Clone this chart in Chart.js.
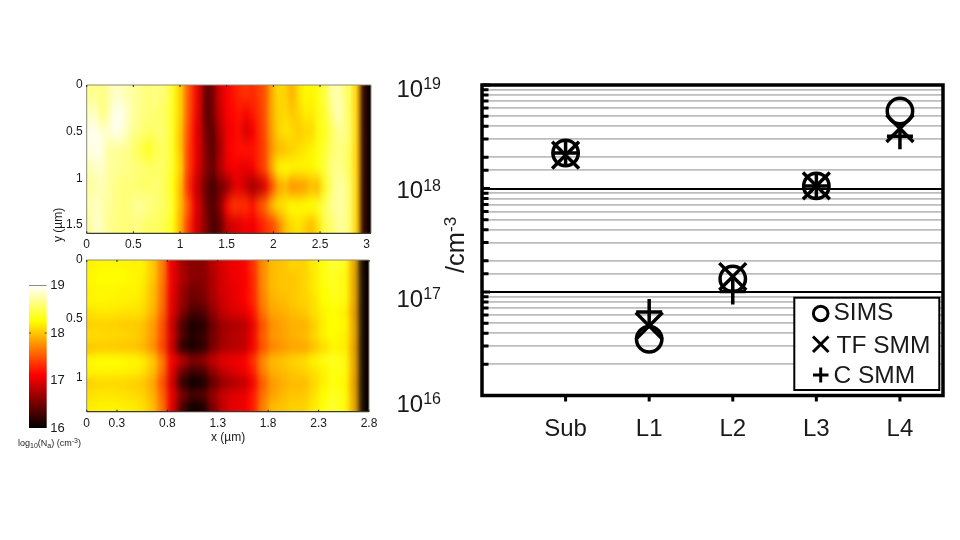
<!DOCTYPE html>
<html>
<head>
<meta charset="utf-8">
<title>Doping profile</title>
<script src="https://cdn.jsdelivr.net/npm/chart.js@4/dist/chart.umd.js"></script>
<style>
  html, body { margin: 0; background: #fff; }
  canvas { position: absolute; left: 0; top: 0; }
</style>
</head>
<body>
<canvas id="topMap" width="960" height="540"></canvas>
<canvas id="bottomMap" width="960" height="540"></canvas>
<canvas id="colorbar" width="960" height="540"></canvas>
<canvas id="summary" width="960" height="540"></canvas>
<script>
/* ================= DATA ================= */
const categories = ["Sub", "L1", "L2", "L3", "L4"];
const seriesNames = ["SIMS", "TF SMM", "C SMM"];
const simsValues = [2.2e18, 3.5e16, 1.34e17, 1.06e18, 5.6e18];
const tfSmmValues = [2.1e18, 4.7e16, 1.41e17, 1.06e18, 3.8e18];
const cSmmValues = [2.2e18, 6.4e16, 1.01e17, 1.06e18, 3.2e18];
const decadeExponents = [16, 17, 18, 19];

const colorbarTicks = [16, 17, 18, 19];
const hotValues = [16, 17.125, 18.25, 19];
const hotColors = [[0, 0, 0], [255, 0, 0], [255, 255, 0], [255, 255, 255]];

const topXTicks = [0, 0.5, 1, 1.5, 2, 2.5, 3];
const topYTicks = [0, 0.5, 1, 1.5];
const topColumns = [0.035, 0.105, 0.175, 0.245, 0.315, 0.385, 0.455, 0.525, 0.595, 0.665, 0.735,
  0.805, 0.875, 0.945, 1.015, 1.085, 1.155, 1.225, 1.295, 1.365, 1.435, 1.505, 1.575, 1.645, 1.715,
  1.785, 1.855, 1.925, 1.995, 2.065, 2.135, 2.205, 2.275, 2.345, 2.415, 2.485, 2.555, 2.625, 2.695,
  2.765, 2.835, 2.905, 2.975, 3.045];
const topRowEdges = [0, 0.2, 0.4, 0.6, 0.8, 1, 1.2, 1.4, 1.6];
const topRows = [
  [18.65,18.7,18.6,18.75,18.85,18.8,18.75,18.7,18.65,18.6,18.65,18.6,18.55,18.3,18.0,17.6,17.25,16.95,16.3,16.6,16.95,17.1,17.2,17.3,17.35,17.3,17.4,17.5,17.95,18.1,18.05,17.9,18.1,18.25,18.2,18.3,18.45,18.7,18.8,18.6,18.5,18.0,16.2,16.0],
  [18.8,18.85,18.55,18.8,18.95,18.95,18.8,18.7,18.65,18.6,18.6,18.55,18.5,18.3,18.0,17.6,17.2,16.95,16.25,16.6,16.9,17.1,17.15,17.25,17.1,17.25,17.35,17.5,17.95,18.05,18.1,18.0,18.05,18.2,18.15,18.3,18.4,18.6,18.85,18.65,18.5,18.0,16.2,16.0],
  [18.95,18.95,18.85,18.85,18.95,18.9,18.75,18.65,18.6,18.55,18.55,18.6,18.5,18.3,17.95,17.55,17.15,16.9,16.4,16.45,16.8,17.05,17.1,17.2,16.9,17.1,17.3,17.5,17.9,18.05,18.15,18.1,18.0,18.1,18.05,18.3,18.35,18.5,18.7,18.65,18.55,18.0,16.2,16.0],
  [18.9,18.95,18.9,18.7,18.7,18.7,18.65,18.55,18.45,18.35,18.45,18.55,18.5,18.3,17.95,17.5,17.15,16.9,16.5,16.4,16.75,17.05,17.15,17.2,17.2,17.2,17.3,17.45,17.85,17.95,18.0,18.05,18.1,18.15,18.2,18.3,18.4,18.55,18.65,18.6,18.5,18.0,16.2,16.0],
  [18.75,18.85,18.85,18.7,18.7,18.65,18.65,18.6,18.6,18.55,18.55,18.55,18.5,18.3,18.0,17.5,17.15,16.85,16.55,16.45,16.8,17.0,17.1,17.05,17.0,17.1,17.3,17.45,17.95,18.2,18.25,18.2,18.2,18.2,18.2,18.3,18.45,18.6,18.7,18.6,18.5,18.0,16.2,16.0],
  [18.7,18.75,18.8,18.7,18.65,18.6,18.6,18.6,18.55,18.55,18.6,18.55,18.45,18.25,17.9,17.4,17.0,16.75,16.4,16.3,16.5,16.6,16.95,17.05,16.85,16.7,16.8,17.0,17.5,17.85,17.95,17.75,17.8,17.8,18.0,17.9,18.35,18.55,18.75,18.7,18.55,18.0,16.2,16.0],
  [18.75,18.85,18.75,18.7,18.65,18.6,18.6,18.7,18.7,18.65,18.6,18.55,18.5,18.3,17.9,17.6,17.1,16.85,16.45,16.35,16.6,17.1,17.4,17.3,17.35,17.2,17.45,17.6,18.0,18.1,18.15,18.25,18.2,18.25,18.25,18.35,18.5,18.65,18.75,18.7,18.55,18.0,16.2,16.0],
  [18.7,18.85,18.8,18.65,18.65,18.6,18.6,18.65,18.6,18.55,18.55,18.5,18.45,18.25,17.85,17.45,17.05,16.8,16.55,16.3,16.45,16.85,16.95,17.0,17.1,17.05,17.2,17.35,17.45,17.7,18.0,18.1,18.15,18.05,17.95,18.15,18.5,18.55,18.7,18.7,18.55,18.0,16.2,16.0]
];

const bottomXTicks = [0, 0.3, 0.8, 1.3, 1.8, 2.3, 2.8];
const bottomYTicks = [0, 0.5, 1];
const bottomColumns = [0.05, 0.15, 0.25, 0.35, 0.45, 0.55, 0.65, 0.75, 0.85, 0.95, 1.05, 1.15, 1.25, 1.35,
  1.45, 1.55, 1.65, 1.75, 1.85, 1.95, 2.05, 2.15, 2.25, 2.35, 2.45, 2.55, 2.65, 2.75];
const bottomRowEdges = [0, 0.1, 0.2, 0.3, 0.4, 0.5, 0.6, 0.7, 0.8, 0.9, 1, 1.1, 1.2, 1.3];
const bottomRows = [
  [18.2,18.22,18.22,18.22,18.2,18.2,18.05,17.7,17.05,16.75,16.6,16.6,16.8,16.95,17.05,17.1,17.3,17.75,17.95,18.0,18.05,18.05,18.15,18.3,18.4,18.35,17.95,16.05],
  [18.22,18.25,18.25,18.25,18.22,18.2,18.05,17.7,17.05,16.8,16.6,16.6,16.75,16.95,17.05,17.1,17.25,17.75,17.95,18.0,18.0,18.05,18.15,18.3,18.35,18.3,17.95,16.05],
  [18.2,18.22,18.22,18.2,18.2,18.18,18.0,17.65,17.05,16.7,16.5,16.55,16.75,16.95,17.0,17.1,17.25,17.75,17.95,18.0,18.0,18.05,18.15,18.25,18.35,18.3,17.95,16.05],
  [18.2,18.22,18.2,18.2,18.18,18.15,18.0,17.65,17.0,16.7,16.45,16.5,16.7,16.9,17.0,17.1,17.25,17.7,17.9,17.95,18.0,18.05,18.1,18.25,18.3,18.3,17.95,16.05],
  [18.12,18.15,18.15,18.12,18.12,18.1,17.95,17.6,17.0,16.6,16.3,16.35,16.6,16.85,16.95,17.0,17.15,17.65,17.85,17.9,17.95,18.0,18.1,18.2,18.25,18.2,17.9,16.05],
  [18.05,18.05,18.05,18.02,18.02,18.0,17.85,17.5,16.9,16.35,16.1,16.15,16.45,16.7,16.75,16.8,17.0,17.5,17.75,17.85,17.9,17.9,18.0,18.2,18.25,18.25,17.95,16.05],
  [18.1,18.1,18.08,18.08,18.05,18.0,17.85,17.5,16.95,16.4,16.15,16.25,16.5,16.7,16.8,16.85,17.05,17.55,17.8,17.85,17.9,17.95,18.05,18.2,18.25,18.2,17.95,16.05],
  [18.0,18.02,18.02,18.0,18.0,17.95,17.8,17.45,16.9,16.2,16.1,16.2,16.5,16.75,16.8,16.85,17.05,17.5,17.7,17.8,17.85,17.85,17.95,18.1,18.2,18.2,17.9,16.05],
  [18.22,18.25,18.25,18.25,18.22,18.2,18.05,17.7,17.1,16.85,16.6,16.65,16.85,17.0,17.05,17.1,17.3,17.75,17.95,18.0,18.05,18.1,18.2,18.3,18.35,18.3,17.95,16.05],
  [18.2,18.22,18.2,18.2,18.18,18.15,18.0,17.65,17.0,16.5,16.25,16.3,16.6,16.85,16.95,17.05,17.2,17.7,17.9,17.95,18.0,18.05,18.1,18.2,18.3,18.3,17.95,16.05],
  [18.05,18.08,18.08,18.08,18.05,18.02,17.9,17.5,16.95,16.25,16.05,16.1,16.4,16.65,16.75,16.85,17.05,17.55,17.8,17.9,17.95,17.95,18.05,18.2,18.3,18.25,17.9,16.05],
  [18.12,18.15,18.15,18.12,18.1,18.08,17.95,17.6,17.05,16.6,16.35,16.4,16.65,16.9,17.0,17.05,17.2,17.65,17.85,17.95,18.0,18.0,18.1,18.25,18.35,18.3,17.95,16.05],
  [18.18,18.2,18.2,18.2,18.18,18.12,18.0,17.65,17.0,16.35,16.05,16.1,16.5,16.85,17.0,17.05,17.2,17.7,17.95,18.0,18.05,18.05,18.15,18.3,18.4,18.3,17.95,16.05]
];

/* ================= SHARED ================= */
const FONT = "'Liberation Sans', Arial, sans-serif";

Chart.defaults.font.family = FONT;
Chart.defaults.color = "#1a1a1a";
Chart.defaults.animation = false;
Chart.defaults.events = [];
Chart.defaults.plugins.legend.display = false;
Chart.defaults.plugins.tooltip.enabled = false;

function hot(v) {
  let i = 0;
  while (i < hotValues.length - 2 && v > hotValues[i + 1]) i++;
  const t = Math.min(1, Math.max(0, (v - hotValues[i]) / (hotValues[i + 1] - hotValues[i])));
  const c = hotColors[i].map((a, k) => Math.round(a + (hotColors[i + 1][k] - a) * t));
  return `rgb(${c[0]},${c[1]},${c[2]})`;
}

// plot area is fixed by padding, the axes get a fixed room next to it
const AXIS_ROOM = 50;
function padFor(area, sideRoom, bottomRoom) {
  return {
    left: area.left - (sideRoom === "right" ? 0 : AXIS_ROOM),
    top: area.top,
    right: 960 - area.right - (sideRoom === "right" ? AXIS_ROOM : 0),
    bottom: 540 - area.bottom - (bottomRoom === false ? 0 : AXIS_ROOM)
  };
}
const fixWidth = s => { s.width = AXIS_ROOM; };
const fixHeight = s => { s.height = AXIS_ROOM; };
const fixedTicks = list => s => { s.ticks = list.map(value => ({ value })); };

// text with sub and superscripts, parts = [text, size, raise]
function richText(ctx, parts, x, y, angle) {
  ctx.save();
  ctx.translate(x, y);
  if (angle) ctx.rotate(angle);
  ctx.textAlign = "left";
  ctx.textBaseline = "alphabetic";
  ctx.fillStyle = "#1a1a1a";
  let pos = 0;
  parts.forEach(([text, size, raise]) => {
    ctx.font = `${size}px ${FONT}`;
    ctx.fillText(text, pos, -(raise || 0));
    pos += ctx.measureText(text).width;
  });
  ctx.restore();
}

/* ================= HEATMAPS ================= */
// the picture is a blurred image, so the cells are resampled after drawing
const smoothCells = {
  id: "smoothCells",
  afterDatasetsDraw(chart, args, opts) {
    const a = chart.chartArea;
    const w = Math.round(a.right - a.left), h = Math.round(a.bottom - a.top);
    const tmp = document.createElement("canvas");
    tmp.width = opts.cols;
    tmp.height = opts.rows;
    const t = tmp.getContext("2d");
    t.imageSmoothingEnabled = true;
    t.imageSmoothingQuality = "high";
    t.drawImage(chart.canvas, a.left, a.top, w, h, 0, 0, opts.cols, opts.rows);
    chart.ctx.save();
    chart.ctx.imageSmoothingEnabled = true;
    chart.ctx.imageSmoothingQuality = "high";
    chart.ctx.drawImage(tmp, 0, 0, opts.cols, opts.rows, a.left, a.top, w, h);
    chart.ctx.restore();
  }
};

const mapFrame = {
  id: "mapFrame",
  afterDraw(chart, args, opts) {
    const { ctx, chartArea: a, scales } = chart;
    ctx.save();
    ctx.strokeStyle = opts.sideColor;
    ctx.lineWidth = 1;
    ctx.beginPath();
    ctx.moveTo(a.left, a.bottom);
    ctx.lineTo(a.left, a.top);
    ctx.lineTo(a.right, a.top);
    ctx.lineTo(a.right, a.bottom);
    ctx.stroke();
    ctx.strokeStyle = opts.bottomColor;
    ctx.lineWidth = 1.3;
    ctx.beginPath();
    ctx.moveTo(a.left, a.bottom);
    ctx.lineTo(a.right, a.bottom);
    ctx.stroke();
    ctx.strokeStyle = "#222";
    ctx.lineWidth = 1;
    ctx.beginPath();
    scales.x.ticks.forEach(t => {
      const p = scales.x.getPixelForValue(t.value);
      ctx.moveTo(p, a.top);
      ctx.lineTo(p, a.top + 2);
      ctx.moveTo(p, a.bottom);
      ctx.lineTo(p, a.bottom - 2);
    });
    ctx.stroke();
    ctx.restore();
    if (opts.label) richText(ctx, opts.label.parts, opts.label.x, opts.label.y, opts.label.angle);
  }
};

function mapChart(id, area, columns, rowEdges, rows, xMax, yMax, xTicks, yTicks, label) {
  const datasets = rows.map((row, r) => ({
    data: row.map((v, c) => ({ x: columns[c], y: [rowEdges[r], rowEdges[r + 1]] })),
    backgroundColor: row.map(hot),
    borderWidth: 0,
    inflateAmount: 0.6,
    grouped: false,
    barPercentage: 1,
    categoryPercentage: 1
  }));
  const tickFont = { size: 12 };
  return new Chart(document.getElementById(id), {
    type: "bar",
    data: { datasets },
    plugins: [smoothCells, mapFrame],
    options: {
      responsive: false,
      devicePixelRatio: 1,
      layout: { padding: padFor(area), autoPadding: false },
      plugins: {
        smoothCells: { cols: columns.length * 2, rows: rows.length },
        mapFrame: { sideColor: "#8c8c7c", bottomColor: "#3a3a30", label }
      },
      scales: {
        x: {
          type: "linear", offset: false, min: 0, max: xMax,
          afterFit: fixHeight, afterBuildTicks: fixedTicks(xTicks),
          grid: { display: false, offset: false, drawTicks: false }, border: { display: false },
          ticks: { font: tickFont, padding: 4.5, autoSkip: false, maxRotation: 0, callback: v => String(v) }
        },
        y: {
          type: "linear", reverse: true, min: 0, max: yMax,
          afterFit: fixWidth, afterBuildTicks: fixedTicks(yTicks),
          grid: { display: false, drawTicks: false }, border: { display: false },
          ticks: { font: tickFont, padding: 4, autoSkip: false, callback: v => String(v) }
        }
      }
    }
  });
}

mapChart("topMap", { left: 86.7, top: 85, right: 371, bottom: 233.3 },
  topColumns, topRowEdges, topRows, 3.046, 1.59, topXTicks, topYTicks,
  { parts: [["y (\u00b5m)", 12]], x: 62, y: 242, angle: -Math.PI / 2 });

mapChart("bottomMap", { left: 86.7, top: 260, right: 369, bottom: 411.7 },
  bottomColumns, bottomRowEdges, bottomRows, 2.8, 1.293, bottomXTicks, bottomYTicks,
  { parts: [["x (\u00b5m)", 12]], x: 211, y: 441 });

/* ================= COLORBAR ================= */
const colorbarArea = { left: 29, top: 285.5, right: 46.7, bottom: 428 };

new Chart(document.getElementById("colorbar"), {
  type: "bar",
  data: {
    labels: ["scale"],
    datasets: [{
      data: [[colorbarTicks[0], colorbarTicks[colorbarTicks.length - 1]]],
      barPercentage: 1,
      categoryPercentage: 1,
      borderWidth: 0,
      backgroundColor: ctx => {
        const g = ctx.chart.ctx.createLinearGradient(0, colorbarArea.bottom, 0, colorbarArea.top);
        const low = hotValues[0], high = hotValues[hotValues.length - 1];
        hotValues.forEach(v => g.addColorStop((v - low) / (high - low), hot(v)));
        return g;
      }
    }]
  },
  plugins: [{
    id: "colorbarFrame",
    afterDraw(chart) {
      const { ctx, chartArea: a, scales } = chart;
      ctx.save();
      ctx.strokeStyle = "#8c8c8c";
      ctx.lineWidth = 1;
      ctx.beginPath();
      ctx.moveTo(a.left, a.top);
      ctx.lineTo(a.right, a.top);
      ctx.stroke();
      ctx.strokeStyle = "#5a3a10";
      ctx.beginPath();
      const p = scales.y.getPixelForValue(18);
      ctx.moveTo(a.left, p);
      ctx.lineTo(a.left + 2, p);
      ctx.moveTo(a.right, p);
      ctx.lineTo(a.right - 2, p);
      ctx.stroke();
      ctx.restore();
      richText(ctx, [["log", 9], ["10", 7, -2], ["(N", 9], ["a", 7, -2], [") (cm", 9], ["-3", 7, 3.5], [")", 9]], 18, 446);
    }
  }],
  options: {
    responsive: false,
    devicePixelRatio: 1,
    layout: { padding: padFor(colorbarArea, "right", false), autoPadding: false },
    scales: {
      x: { afterFit: s => { s.height = 0; }, grid: { display: false, drawTicks: false }, border: { display: false }, ticks: { display: false } },
      y: {
        position: "right", min: 16, max: 19,
        afterFit: fixWidth, afterBuildTicks: fixedTicks(colorbarTicks),
        grid: { display: false, drawTicks: false }, border: { display: false },
        ticks: { font: { size: 13 }, padding: 3.5, autoSkip: false, callback: v => String(v) }
      }
    }
  }
});

/* ================= SUMMARY PLOT ================= */
const summaryArea = { left: 482, top: 85, right: 943, bottom: 395.5 };

const pointsOf = values => values.map((y, i) => ({ x: i, y }));
const markerSet = (values, pointStyle, pointRadius) => ({
  data: pointsOf(values),
  pointStyle,
  pointRadius,
  pointBorderWidth: 3.5,
  pointBorderColor: "#000",
  pointBackgroundColor: "rgba(0,0,0,0)",
  showLine: false
});

const isDecade = v => Math.abs(Math.log10(v) - Math.round(Math.log10(v))) < 1e-6;

const summaryDecor = {
  id: "summaryDecor",
  afterDraw(chart) {
    const { ctx, chartArea: a, scales } = chart;
    ctx.save();
    ctx.strokeStyle = "#000";
    ctx.fillStyle = "#000";

    // inward ticks on the log axis, outward on the category axis
    ctx.lineWidth = 3;
    ctx.beginPath();
    scales.y.ticks.forEach(t => {
      const p = scales.y.getPixelForValue(t.value);
      ctx.moveTo(a.left, p);
      ctx.lineTo(a.left + (isDecade(t.value) ? 8 : 6.5), p);
    });
    categories.forEach((c, i) => {
      const p = scales.x.getPixelForValue(i);
      ctx.moveTo(p, a.bottom);
      ctx.lineTo(p, a.bottom + 6);
    });
    ctx.stroke();

    // frame
    ctx.lineWidth = 3.5;
    ctx.lineJoin = "miter";
    ctx.strokeRect(a.left, a.top, a.right - a.left, a.bottom - a.top);

    // legend
    const box = { x: 794.3, y: 297.7, w: 145, h: 92.3 };
    ctx.fillStyle = "#fff";
    ctx.fillRect(box.x, box.y, box.w, box.h);
    ctx.lineWidth = 2;
    ctx.strokeRect(box.x, box.y, box.w, box.h);

    ctx.lineWidth = 3;
    ctx.beginPath();
    ctx.arc(820.7, 313.5, 7.3, 0, Math.PI * 2);
    ctx.moveTo(813, 336.5);
    ctx.lineTo(828.5, 352);
    ctx.moveTo(828.5, 336.5);
    ctx.lineTo(813, 352);
    ctx.moveTo(813, 375);
    ctx.lineTo(828.5, 375);
    ctx.moveTo(820.7, 367.5);
    ctx.lineTo(820.7, 382.5);
    ctx.stroke();
    ctx.restore();

    richText(ctx, [[seriesNames[0], 24.5]], 833.5, 320);
    richText(ctx, [[seriesNames[1], 24.5]], 836.5, 352.5);
    richText(ctx, [[seriesNames[2], 24.5]], 833.5, 383);

    // decade labels
    const baseDrop = [16.2, 14.7, 9.5, 11.7];
    decadeExponents.forEach((e, i) => {
      const y = scales.y.getPixelForValue(Math.pow(10, e)) + baseDrop[i];
      richText(ctx, [["10", 24], [String(e), 16, 7.5]], 396.5, y);
    });

    richText(ctx, [["/cm", 25.5], ["-3", 17, 8]], 464, 273, -Math.PI / 2);
  }
};

new Chart(document.getElementById("summary"), {
  type: "scatter",
  data: {
    datasets: [
      markerSet(simsValues, "circle", 12.7),
      markerSet(tfSmmValues, "crossRot", 19),
      markerSet(cSmmValues, "cross", 13)
    ]
  },
  plugins: [summaryDecor],
  options: {
    responsive: false,
    devicePixelRatio: 1,
    layout: { padding: padFor(summaryArea), autoPadding: false },
    scales: {
      x: {
        type: "linear", min: -1, max: 4.515,
        afterFit: fixHeight, afterBuildTicks: fixedTicks(categories.map((c, i) => i)),
        grid: { display: false, drawTicks: false }, border: { display: false },
        ticks: { font: { size: 24 }, padding: 19, autoSkip: false, maxRotation: 0, callback: v => categories[v] }
      },
      y: {
        type: "logarithmic", min: 1e16, max: 1e19,
        afterFit: fixWidth,
        border: { display: false },
        ticks: { display: false, autoSkip: false },
        grid: {
          drawTicks: false,
          color: c => isDecade(c.tick.value) ? "#000" : "#bdbdbd",
          lineWidth: c => isDecade(c.tick.value) ? 2 : 1.8
        }
      }
    }
  }
});
</script>
</body>
</html>
